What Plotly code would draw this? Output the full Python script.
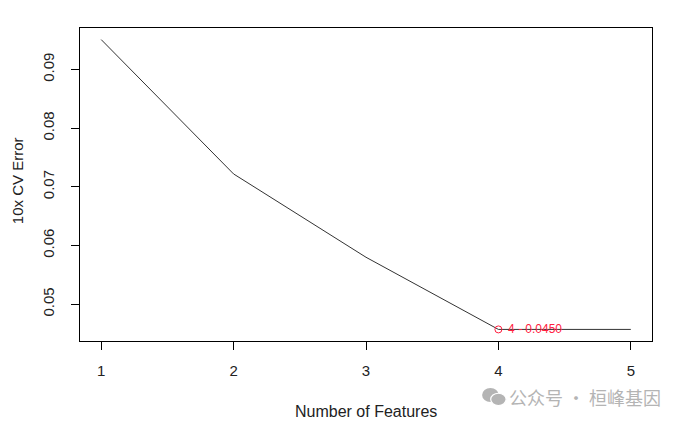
import plotly.graph_objects as go

n_features = [1, 2, 3, 4, 5]
cv_error = [0.0951, 0.0722, 0.0580, 0.0457, 0.0457]
best_index = 3
best_label = "4 - 0.0450"
x_ticks = [1, 2, 3, 4, 5]
y_ticks = [0.05, 0.06, 0.07, 0.08, 0.09]
y_tick_labels = ["0.05", "0.06", "0.07", "0.08", "0.09"]

def r_range(vals):
    lo, hi = min(vals), max(vals)
    pad = (hi - lo) * 0.04
    return [lo - pad, hi + pad]

RED = "#ff2040"
FONT = "Liberation Sans, Arial"

fig = go.Figure()
fig.add_trace(go.Scatter(x=n_features, y=cv_error, mode="lines",
                         line=dict(color="#333333", width=1), hoverinfo="skip"))
fig.add_trace(go.Scatter(x=[n_features[best_index]], y=[cv_error[best_index]],
                         mode="markers",
                         marker=dict(symbol="circle-open", size=7, color=RED,
                                     line=dict(width=1, color=RED))))

axis_common = dict(showline=True, mirror=True, linecolor="black", linewidth=1,
                   ticks="outside", ticklen=8, tickcolor="black", tickwidth=1,
                   showgrid=False, zeroline=False,
                   tickfont=dict(family=FONT, size=15, color="#222"))

fig.update_layout(
    width=684, height=425,
    margin=dict(l=72, r=40, t=20, b=92),
    paper_bgcolor="white", plot_bgcolor="white",
    showlegend=False,
    xaxis=dict(range=r_range(n_features), tickvals=x_ticks, ticklabelstandoff=8,
               **axis_common),
    yaxis=dict(range=r_range(cv_error), tickvals=y_ticks, ticktext=y_tick_labels,
               tickangle=-90, ticklabelstandoff=11, **axis_common),
    annotations=[
        dict(text=best_label, x=n_features[best_index], y=cv_error[best_index],
             xref="x", yref="y", xanchor="left", yanchor="middle", xshift=8,
             showarrow=False, font=dict(family=FONT, size=12, color=RED)),
        dict(text="Number of Features", xref="paper", yref="paper", x=0.5, y=-0.224,
             xanchor="center", yanchor="middle", showarrow=False,
             font=dict(family=FONT, size=16, color="#222")),
        dict(text="10x CV Error", xref="paper", yref="paper", x=-0.110, y=0.511,
             xanchor="center", yanchor="middle", textangle=-90, showarrow=False,
             font=dict(family=FONT, size=15, color="#222")),
        dict(text="公众号 · 桓峰基因", xref="paper", yref="paper", x=1.019, y=-0.179,
             xanchor="right", yanchor="middle", showarrow=False,
             font=dict(family="Noto Sans CJK SC", size=18, color="#b4b4b4")),
    ],
    shapes=[
        dict(type="circle", xref="paper", yref="paper", x0=0.703, x1=0.732, y0=-0.195, y1=-0.150,
             fillcolor="#b4b4b4", line=dict(width=0)),
        dict(type="circle", xref="paper", yref="paper", x0=0.718, x1=0.745, y0=-0.206, y1=-0.167,
             fillcolor="#b4b4b4", line=dict(color="white", width=1.2)),
    ],
)

fig.write_html("out.html")
